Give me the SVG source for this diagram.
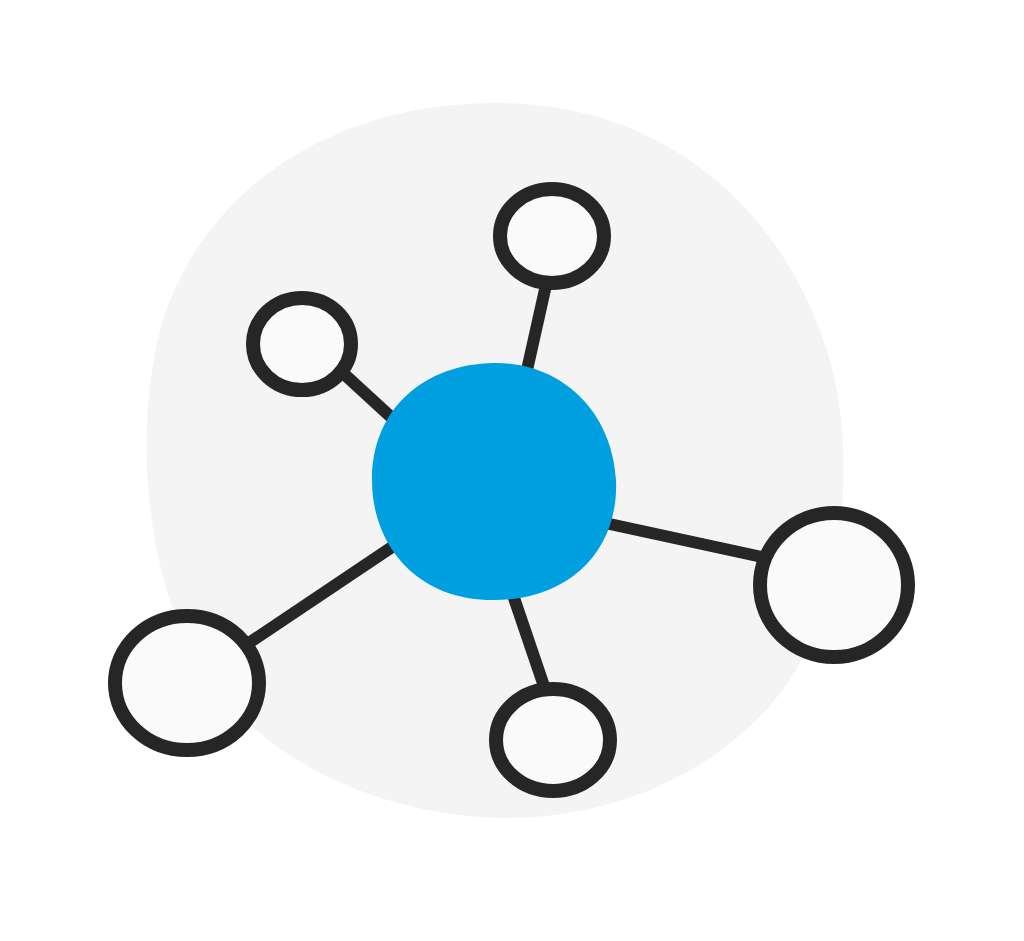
<svg xmlns="http://www.w3.org/2000/svg" width="1024" height="941" viewBox="0 0 1024 941">
<style>
.bg{fill:#f4f4f4}
.hub{fill:#009fe0}
.leaf{fill:#fafafa;stroke:#262626;stroke-width:14}
.edge{stroke:#262626;stroke-width:12;stroke-linecap:butt;fill:none}
</style>
<rect width="1024" height="941" fill="#ffffff"/>
<path class="bg" d="M490,103 C680,100 800,230 835,380 C855,480 840,600 790,680 C720,780 600,820 500,818 C380,815 250,760 190,650 C145,560 135,430 160,330 C200,190 330,105 490,103 Z"/>
<g id="connectors">
<line class="edge" x1="527" y1="370" x2="546" y2="285"/>
<line class="edge" x1="392" y1="418" x2="343" y2="373"/>
<line class="edge" x1="605" y1="523" x2="762" y2="557"/>
<line class="edge" x1="513" y1="595" x2="546" y2="692"/>
<line class="edge" x1="395" y1="545" x2="243" y2="647"/>
</g>
<g id="hub"><path class="hub" d="M494,363 C560,362 612,410 616,480 C619,550 570,600 494,600 C420,601 372,548 372,480 C372,408 425,364 494,363 Z"/></g>
<g id="node-top"><ellipse class="leaf" cx="552" cy="236" rx="52" ry="47"/></g>
<g id="node-upperleft"><ellipse class="leaf" cx="302" cy="344" rx="49" ry="46"/></g>
<g id="node-right"><ellipse class="leaf" cx="834" cy="585" rx="74" ry="72"/></g>
<g id="node-bottom"><ellipse class="leaf" cx="553" cy="740" rx="57" ry="51"/></g>
<g id="node-lowerleft"><ellipse class="leaf" cx="187" cy="683" rx="72" ry="67"/></g>
</svg>
